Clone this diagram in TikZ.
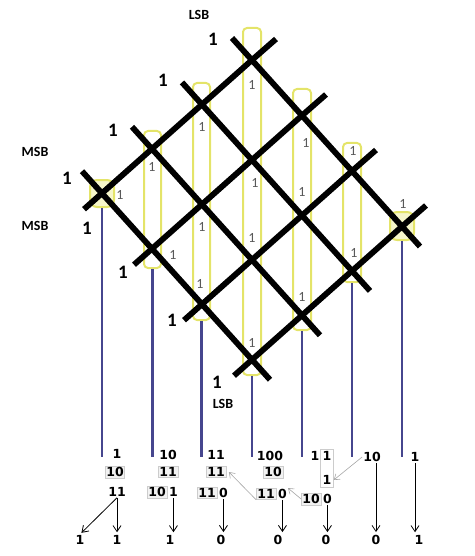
\documentclass[tikz,border=0pt]{standalone}
\usepackage{fontspec}
\setmainfont{Carlito}
\newfontfamily\numfont{DejaVu Sans}
\usepackage{tikz}
\usetikzlibrary{arrows.meta,positioning,fit}
\definecolor{celdacol}{RGB}{228,228,105}
\definecolor{postecol}{RGB}{70,70,142}
\tikzset{
    hilo/.style={draw=black,line width=5.8pt},
    celda/.style={draw=celdacol,line width=2pt,rounded corners=4pt,inner sep=0pt},
    celdaglow/.style={celda,fill=celdacol!35,rounded corners=7pt},
    poste/.style={draw=postecol,line width=2.6pt},
    uno/.style={font=\bfseries\fontsize{19}{19}\selectfont,inner sep=0pt},
    etiq/.style={font=\bfseries\fontsize{14}{14}\selectfont,inner sep=0pt},
    parcial/.style={text=black!65,font=\fontsize{14}{14}\selectfont,inner sep=0pt},
    num/.style={font=\numfont\bfseries\fontsize{12.5}{13}\selectfont,inner sep=1pt},
    numcaja/.style={num,draw=black!20,fill=black!5},
    acarreo/.style={draw=black!35,line width=0.6pt,-{Straight Barb[length=5pt,width=7pt]}},
    baja/.style={draw,line width=0.8pt,-{Straight Barb[length=6pt,width=8pt]}},
}
\begin{document}
\begin{tikzpicture}[x=1pt,y=-1pt]
    \useasboundingbox (0,0) rectangle (474,556);
    % cruces: p<fila de hilo descendente><hilo ascendente>
    \coordinate (p00) at (252,60);
    \coordinate (p01) at (302,115.5);
    \coordinate (p02) at (352,171);
    \coordinate (p03) at (402,226.5);
    \coordinate (p10) at (202,104.4);
    \coordinate (p11) at (252,159.9);
    \coordinate (p12) at (302,215.4);
    \coordinate (p13) at (352,270.9);
    \coordinate (p20) at (152,148.8);
    \coordinate (p21) at (202,204.3);
    \coordinate (p22) at (252,259.8);
    \coordinate (p23) at (302,315.3);
    \coordinate (p30) at (102,193.2);
    \coordinate (p31) at (152,248.7);
    \coordinate (p32) at (202,304.2);
    \coordinate (p33) at (252,359.7);
    % columnas
    \node [celdaglow,fit={(90,180) (114,207)}] (k0) {};
    \node [celda,fit={(144,131) (161,268)}] (k1) {};
    \node [celda,fit={(193,83) (210,320)}] (k2) {};
    \node [celda,fit={(243,28) (261,375)}] (k3) {};
    \node [celda,fit={(293,89) (311,330)}] (k4) {};
    \node [celda,fit={(343,143) (361,282)}] (k5) {};
    \node [celdaglow,fit={(390,212) (414,240)}] (k6) {};
    % hilos
    \path [hilo] ([shift={(-20,-22)}]p00) -- (p03) -- ++(18,20);
    \path [hilo] ([shift={(-20,-22)}]p10) -- (p13) -- ++(18,20);
    \path [hilo] ([shift={(-20,-22)}]p20) -- (p23) -- ++(18,20);
    \path [hilo] ([shift={(-20,-22)}]p30) -- (p33) -- ++(18,20);
    \path [hilo] ([shift={(-18,16)}]p30) -- (p00) -- ++(24,-21);
    \path [hilo] ([shift={(-18,16)}]p31) -- (p01) -- ++(24,-21);
    \path [hilo] ([shift={(-18,16)}]p32) -- (p02) -- ++(24,-21);
    \path [hilo] ([shift={(-18,16)}]p33) -- (p03) -- ++(24,-21);
    % etiquetas
    \node [etiq] (lsbtop) at (199,15) {LSB};
    \node [etiq] (lsbbot) at (223,404) {LSB};
    \node [etiq] (msbtop) at (35,152) {MSB};
    \node [etiq] (msbbot) at (35,226) {MSB};
    \node [uno] (m0) at (213,39) {1};
    \node [uno] (m1) at (163,80) {1};
    \node [uno] (m2) at (113,130) {1};
    \node [uno] (m3) at (67,178) {1};
    \node [uno] (n0) at (87,228) {1};
    \node [uno] (n1) at (123,272) {1};
    \node [uno] (n2) at (172,320) {1};
    \node [uno] (n3) at (217,382) {1};
    % productos parciales
    \node [parcial] (u00) at ([shift={(0,25)}]p00) {1};
    \node [parcial] (u01) at ([shift={(4,27)}]p01) {1};
    \node [parcial] (u02) at ([shift={(1,-20)}]p02) {1};
    \node [parcial] (u03) at ([shift={(1,-23)}]p03) {1};
    \node [parcial] (u10) at ([shift={(0,23)}]p10) {1};
    \node [parcial] (u11) at ([shift={(3,23)}]p11) {1};
    \node [parcial] (u12) at ([shift={(0,-23)}]p12) {1};
    \node [parcial] (u13) at ([shift={(2,-18)}]p13) {1};
    \node [parcial] (u20) at ([shift={(0,18)}]p20) {1};
    \node [parcial] (u21) at ([shift={(0,23)}]p21) {1};
    \node [parcial] (u22) at ([shift={(0,-22)}]p22) {1};
    \node [parcial] (u23) at ([shift={(0,-18)}]p23) {1};
    \node [parcial] (u30) at ([shift={(18,2)}]p30) {1};
    \node [parcial] (u31) at ([shift={(21,6)}]p31) {1};
    \node [parcial] (u32) at ([shift={(-2,-20)}]p32) {1};
    \node [parcial] (u33) at ([shift={(0,-17)}]p33) {1};
    % postes
    \coordinate (pie) at (0,457);
    \path [poste] (k0.south) -- (k0.south |- pie);
    \path [poste] (k1.south) -- (k1.south |- pie);
    \path [poste] (k2.south) -- (k2.south |- pie);
    \path [poste] (k3.south) -- (k3.south |- pie);
    \path [poste] (k4.south) -- (k4.south |- pie);
    \path [poste] (k5.south) -- (k5.south |- pie);
    \path [poste] (k6.south) -- (k6.south |- pie);
    % sumas
    \node [num] (a1) at (117,454) {1};
    \node [numcaja] (a2) at (115,472) {10};
    \node [num] (a3) at (117,492) {11};
    \node [num] (b1) at (168,455) {10};
    \node [numcaja] (b2) at (168,472) {11};
    \node [numcaja] (b3) at (157,492) {10};
    \node [num,right=1pt of b3] (b3u) {1};
    \node [num] (c1) at (216,455) {11};
    \node [numcaja] (c2) at (216,472) {11};
    \node [numcaja] (c3) at (207,493) {11};
    \node [num,right=1pt of c3] (c3u) {0};
    \node [num] (d1) at (270,456) {100};
    \node [numcaja] (d2) at (273,472) {10};
    \node [numcaja] (d3) at (266,494) {11};
    \node [num,right=1pt of d3] (d3u) {0};
    \node [num] (e1) at (315,456) {1};
    \node [num] (e1b) at (327,456) {1};
    \node [num] (e2) at (327,480) {1};
    \node [draw=black!20,inner sep=1pt,fit=(e1b)(e2)] (ecaja) {};
    \node [numcaja] (e3) at (311,499) {10};
    \node [num,right=1pt of e3] (e3u) {0};
    \node [num] (f1) at (372,457) {10};
    \node [num] (g1) at (415,457) {1};
    % resultado
    \node [num] (r1) at (80,540) {1};
    \node [num] (r2) at (117,540) {1};
    \node [num] (r3) at (170,540) {1};
    \node [num] (r4) at (221,540) {0};
    \node [num] (r5) at (278,540) {0};
    \node [num] (r6) at (326,540) {0};
    \node [num] (r7) at (376,540) {0};
    \node [num] (r8) at (419,540) {1};
    \path [acarreo] (f1.west) -- (ecaja.east |- e2);
    \path [acarreo] (e3.west) -- (d3u.north east);
    \path [acarreo] (d3.south west) -- ([xshift=3pt]c2.east);
    \path [baja,shorten >=2pt] (a3.south) -- (r1.north);
    \path [baja,shorten >=2pt] (a3.south) -- (r2.north);
    \path [baja,shorten >=2pt] (b3u.south) -- (b3u.south |- r3.north);
    \path [baja,shorten >=2pt] (c3u.south) -- (c3u.south |- r4.north);
    \path [baja,shorten >=2pt] (d3u.south) -- (d3u.south |- r5.north);
    \path [baja,shorten >=2pt] (e3u.south) -- (e3u.south |- r6.north);
    \path [baja,shorten >=2pt] ([xshift=4pt]f1.south) -- ([xshift=4pt]f1.south |- r7.north);
    \path [baja,shorten >=2pt] (g1.south) -- (g1.south |- r8.north);
\end{tikzpicture}
\end{document}
